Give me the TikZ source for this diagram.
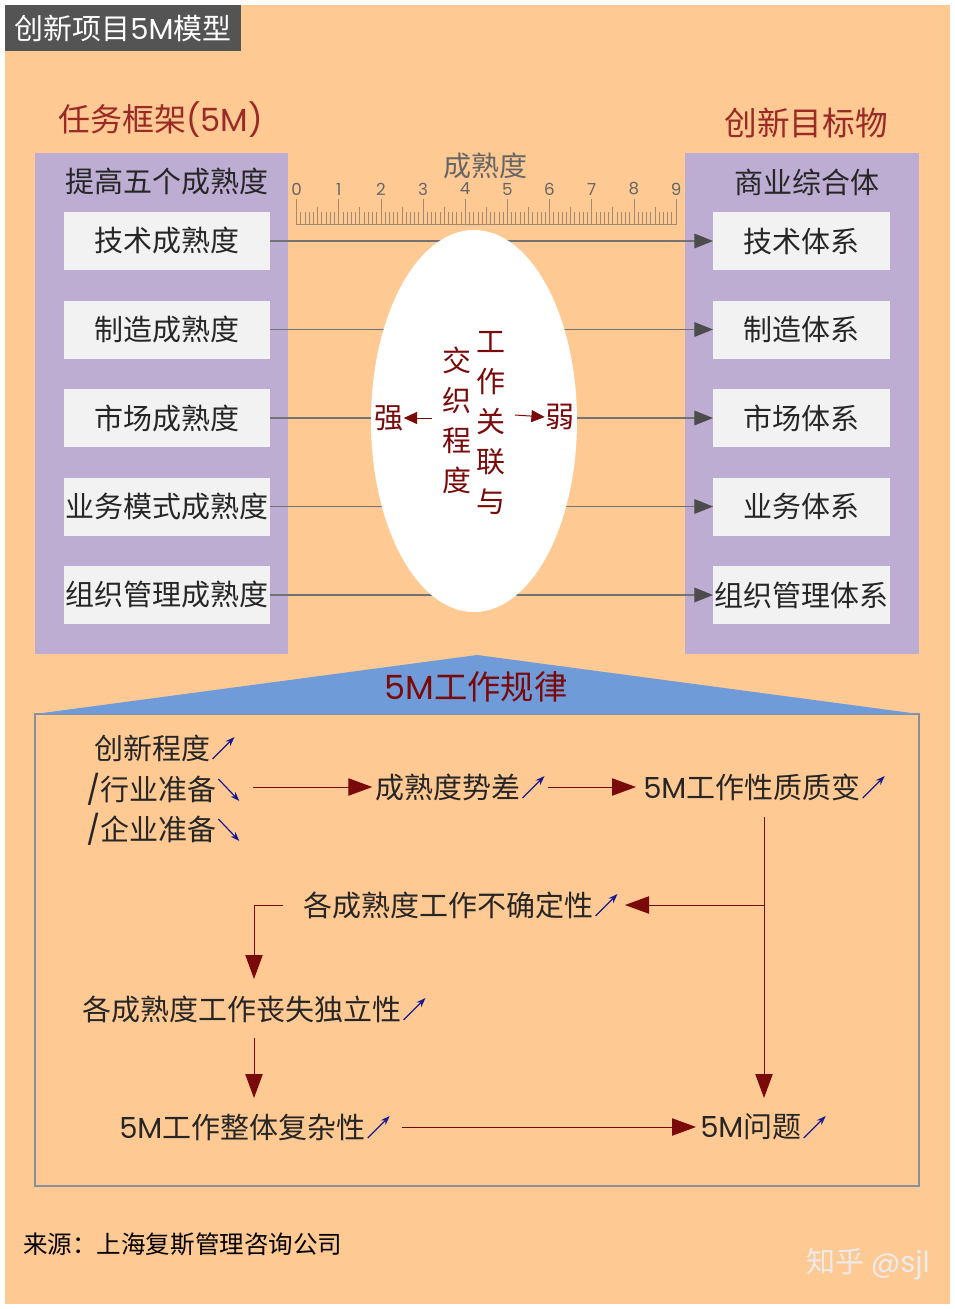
\documentclass[tikz,border=0pt]{standalone}
\usepackage{fontspec}
\usetikzlibrary{arrows.meta}
\setmainfont{Noto Sans CJK SC}
\newfontfamily\latfont{Poppins}
\definecolor{peachbg}{HTML}{FFC993}
\definecolor{panelpurple}{HTML}{BDADD3}
\definecolor{boxgray}{HTML}{F2F2F2}
\definecolor{darkred}{HTML}{7A0A0A}
\definecolor{titlered}{HTML}{9A2A25}
\definecolor{rulerbrown}{HTML}{A08A70}
\definecolor{markblue}{HTML}{1A1A90}
\definecolor{framegray}{HTML}{8A8F9A}
\definecolor{roofblue}{HTML}{6F9BD8}
\newcommand{\fm}[1]{{\latfont #1}}
\tikzset{
  rowbox/.style={fill=boxgray, minimum height=43.5pt, inner sep=0pt, outer sep=0pt, font=\fontsize{21.75}{26}\selectfont, text=black!85},
  panel/.style={fill=panelpurple},
  bodytext/.style={inner sep=0pt, font=\fontsize{21.75}{26}\selectfont, text=black!85},
  redtext/.style={inner sep=0pt, font=\fontsize{21.75}{30}\selectfont, text=darkred, align=center},
  rowarrow/.style={draw=black!55, line width=0.9pt, -{Triangle[length=14pt,width=11pt,fill=black!70,color=black!70]}},
  flow/.style={draw=darkred, line width=0.75pt, -{Triangle[length=18pt,width=13pt,fill=darkred]}},
  smallflow/.style={draw=darkred, line width=0.75pt, -{Triangle[length=10pt,width=9pt,fill=darkred]}},
  upmark/.style={draw=markblue, line width=0.9pt, -{Stealth[length=7pt,width=5pt]}},
  rulertick/.style={draw=rulerbrown, line width=0.5pt}
}
\begin{document}
\begin{tikzpicture}[x=0.75pt, y=-0.75pt]
\useasboundingbox (0,0) rectangle (954,1309);
\fill[white] (0,0) rectangle (954,1309);
\fill[peachbg] (5,5) rectangle (950,1304);
% title
\node[fill=black!67, text=white, inner sep=0pt, minimum width=177pt, minimum height=34.5pt, font=\fontsize{21.7}{24}\selectfont] (title) at (123,28) {创新项目\fm{5M}模型};
\node[inner sep=0pt, text=titlered, font=\fontsize{24}{30}\selectfont] (framehead) at (160.5,120) {任务框架\fm{(5M)}};
\node[inner sep=0pt, text=titlered, font=\fontsize{24.5}{30}\selectfont] (goalhead) at (806,123) {创新目标物};
% panels
\fill[panel] (35,153) rectangle (288,654);
\fill[panel] (685,153) rectangle (919,654);
\node[bodytext] (lefthead) at (167,182) {提高五个成熟度};
\node[bodytext] (righthead) at (807,182) {商业综合体};
% rows
\foreach \i/\lname/\rname/\y in {1/技术成熟度/技术体系/241, 2/制造成熟度/制造体系/329.5, 3/市场成熟度/市场体系/418, 4/业务模式成熟度/业务体系/506.5, 5/组织管理成熟度/组织管理体系/595} {
  \node[rowbox, minimum width=154.5pt] (L\i) at (167,\y) {\lname};
  \node[rowbox, minimum width=132.75pt] (R\i) at (801.5,\y) {\rname};
  \draw[rowarrow] (L\i.east) -- (R\i.west);
}
% ruler
\node[inner sep=0pt, text=black!60, font=\fontsize{21}{25}\selectfont] (scalehead) at (485,166) {成熟度};
\draw[rulertick] (296.5,224.5) -- (676,224.5);
\foreach \k in {0,...,90} {
  \pgfmathsetmacro{\tx}{296.5+\k*4.217}
  \pgfmathsetmacro{\ty}{ifthenelse(mod(\k,10)==0,199,ifthenelse(mod(\k,5)==0,207,212))}
  \draw[rulertick] (\tx,224.5) -- (\tx,\ty);
}
\foreach \k in {0,...,9} {
  \node[inner sep=0pt, text=black!60, font=\fontsize{12.5}{14}\selectfont\latfont] (num\k) at (296.5+\k*42.17,189) {\k};
}
% ellipse
\fill[white] (474,421) ellipse [x radius=103, y radius=191];
\node[redtext] (guanlian) at (491,422.5) {工\\作\\关\\联\\与};
\node[redtext] (jiaozhi) at (456.5,420.5) {交\\织\\程\\度};
\node[redtext] (qiang) at (389,418) {强};
\node[redtext] (ruo) at (559.5,417) {弱};
\coordinate (qiangout) at (432,418);
\coordinate (ruoout) at (515,415);
\draw[smallflow] (qiangout) -- (qiang.east);
\draw[smallflow] (ruoout) -- (ruo.west);
% lower frame
\draw[framegray, line width=0.9pt] (35,714) rectangle (919,1186);
\fill[roofblue] (35,714) -- (477,655) -- (919,714) -- cycle;
\node[inner sep=0pt, text=darkred, font=\fontsize{25}{28}\selectfont] (lawhead) at (476,687) {\fm{5M}工作规律};
% laws
\node[bodytext, anchor=west] (chuangxin) at (94,748) {创新程度};
\node[bodytext, anchor=west] (hangye) at (86,789) {\fm{/}行业准备};
\node[bodytext, anchor=west] (qiye) at (86,829) {\fm{/}企业准备};
\node[bodytext, anchor=west] (shicha) at (375,787) {成熟度势差};
\node[bodytext, anchor=west] (zhibian) at (643,787) {\fm{5M}工作性质质变};
\node[bodytext, anchor=west] (buqueding) at (303,905) {各成熟度工作不确定性};
\node[bodytext, anchor=west] (sangshi) at (82,1009) {各成熟度工作丧失独立性};
\node[bodytext, anchor=west] (fuza) at (119,1127) {\fm{5M}工作整体复杂性};
\node[bodytext, anchor=west] (wenti) at (700,1127) {\fm{5M}问题};
% small marks
\foreach \n in {chuangxin,shicha,zhibian,buqueding,sangshi,fuza,wenti} {
  \draw[upmark] ([shift={(2,11)}]\n.east) -- ++(22,-22);
}
\foreach \n in {hangye,qiye} {
  \draw[upmark] ([shift={(2,-10)}]\n.east) -- ++(21,22);
}
% connectors
\coordinate (hangyeout) at (253,787);
\coordinate (shichaout) at (548,787);
\coordinate (zhibianin) at (636,787);
\coordinate (zhibianout) at (764,817);
\coordinate (branch) at (764,905);
\coordinate (wentiin) at (764,1098);
\coordinate (buquedingin) at (625,905);
\coordinate (buquedingout) at (283,905);
\coordinate (sangshiin) at (254,979);
\coordinate (sangshiout) at (254,1038);
\coordinate (fuzain) at (254,1098);
\coordinate (fuzaout) at (402,1127);
\draw[flow] (hangyeout) -- ([xshift=-2pt]shicha.west);
\draw[flow] (shichaout) -- (zhibianin);
\draw[flow] (zhibianout) -- (wentiin);
\draw[flow] (branch) -- (buquedingin);
\draw[flow] (buquedingout) -| (sangshiin);
\draw[flow] (sangshiout) -- (fuzain);
\draw[flow] (fuzaout) -- ([xshift=-3pt]wenti.west);
% source
\node[inner sep=0pt, anchor=west, text=black, font=\fontsize{18.4}{22}\selectfont] (source) at (23,1244) {来源：上海复斯管理咨询公司};
\node[inner sep=0pt, text=white!92!black, font=\fontsize{21.8}{25}\selectfont] (mark) at (868,1264) {知乎 \fm{@sjl}};
\end{tikzpicture}
\end{document}
